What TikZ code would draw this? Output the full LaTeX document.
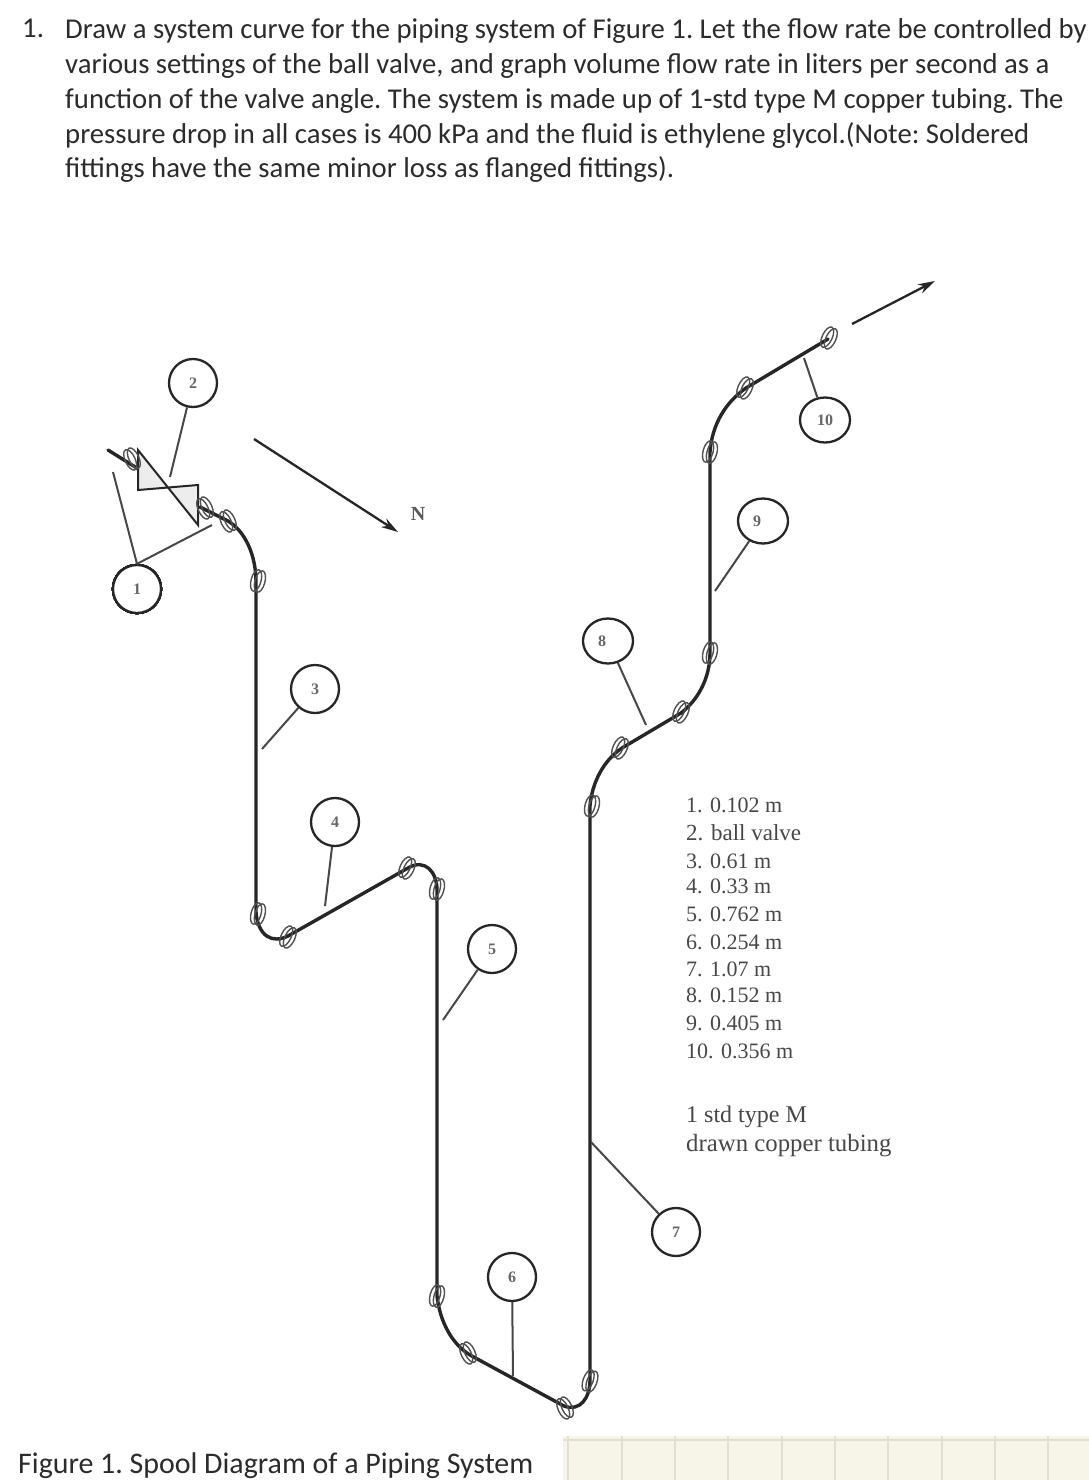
\documentclass[tikz,border=0pt]{standalone}
\usepackage{fontspec}
\setmainfont{Carlito}
\newfontfamily\figserif{Liberation Serif}
\usetikzlibrary{shapes.geometric,arrows.meta}
\definecolor{inkc}{HTML}{262626}
\definecolor{txtc}{HTML}{2B2B2B}
\definecolor{gridfill}{HTML}{F7F4E8}
\definecolor{gridline}{HTML}{E2DFD0}
\tikzset{
 x=1pt,y=-1pt,
 pipe/.style={draw=inkc,line width=3.4pt,line cap=round,line join=round},
 leader/.style={draw=inkc!85,line width=2pt},
 flange/.style={draw=inkc!80,line width=1.4pt},
 bubble/.style={circle,draw=inkc,line width=2.3pt,minimum size=48pt,inner sep=0pt,fill=white,font=\figserif\bfseries\fontsize{16}{16}\selectfont,text=black!60},
 obubble/.style={bubble,ellipse,minimum width=50pt,minimum height=45pt},
 body/.style={anchor=base west,inner sep=0pt,font=\frenchspacing\fontsize{28.7}{30}\selectfont,text=txtc},
 legend/.style={anchor=base west,inner sep=0pt,font=\figserif\fontsize{22}{24}\selectfont,text=black!72},
 flowarrow/.style={draw=inkc,line width=2.3pt,-{Stealth[length=17pt,width=10pt]}},
}
\newcommand{\flangeat}[3]{%
 \begin{scope}[shift={(#1,#2)},rotate=#3]
  \draw[flange] (-2,0) ellipse [x radius=5,y radius=11];
  \draw[flange] (2,0) ellipse [x radius=5,y radius=11];
 \end{scope}}
\begin{document}
\begin{tikzpicture}
\useasboundingbox (0,0) rectangle (1089,1480);
\fill[white] (0,0) rectangle (1089,1480);
% statement
\node[body] (tn) at (22,38) {1.};
\node[body] (t1) at (65,39) {Draw a system curve for the piping system of Figure 1. Let the flow rate be controlled by};
\node[body] (t2) at (65,74) {various settings of the ball valve, and graph volume flow rate in liters per second as a};
\node[body] (t3) at (65,108) {function of the valve angle. The system is made up of 1-std type M copper tubing. The};
\node[body] (t4) at (65,143) {pressure drop in all cases is 400 kPa and the fluid is ethylene glycol.(Note: Soldered};
\node[body] (t5) at (65,177) {fittings have the same minor loss as flanged fittings).};
\node[body,font=\frenchspacing\fontsize{29.9}{30}\selectfont] (cap) at (18,1473) {Figure 1. Spool Diagram of a Piping System};
% grid corner
\fill[gridfill] (563,1436) rectangle (1089,1480);
\draw[gridline,line width=1.6pt] (563,1440) -- (1089,1440);
\foreach \gx in {568,622,675,728,782,835,888,942,995,1048}
  \draw[gridline,line width=1.6pt] (\gx,1436) -- (\gx,1480);
% pipes
\draw[pipe] (108,450) -- (140,470);
\draw[pipe] (200,507) -- (228,521) .. controls (245,531) and (256,555) .. (256,582)
  -- (256,912) .. controls (258,936) and (272,944) .. (288,936)
  -- (408,868) .. controls (425,858) and (437,872) .. (437,890)
  -- (437,1296) .. controls (440,1322) and (452,1344) .. (470,1355)
  -- (564,1406) .. controls (580,1412) and (590,1398) .. (590,1380)
  -- (590,806) .. controls (592,782) and (604,760) .. (622,748)
  -- (681,713) .. controls (698,700) and (710,678) .. (710,653)
  -- (710,452) .. controls (712,424) and (726,402) .. (746,388)
  -- (828,339);
% valve
\fill[black!7] (138,450) -- (198,525) -- (198,485) -- (138,490) -- cycle;
\draw[draw=inkc,line width=2pt,line join=miter] (138,450) -- (198,525) -- (198,485) -- (138,490) -- cycle;
% flanges
\foreach \fx/\fy/\fr in {132/459/25,205/508/25,228/521/25,258/581/-15,258/914/-15,288/937/-25,407/868/-25,437/889/-15,437/1296/-15,468/1353/25,565/1408/25,590/1381/-20,592/806/-15,620/748/-25,681/712/-25,710/653/-15,710/452/-15,745/388/-25,829/338/-25}
  \flangeat{\fx}{\fy}{\fr}
% bubbles
\node[bubble] (n1) at (137,589) {1};
\node[bubble] (n2) at (193,383) {2};
\node[bubble] (n3) at (315,689) {3};
\node[bubble] (n4) at (335,822) {4};
\node[bubble] (n5) at (492,949) {5};
\node[bubble] (n6) at (512,1277) {6};
\node[bubble] (n7) at (676,1232) {7};
\node[obubble] (n8) at (608,641) {\hspace*{-12pt}8};
\node[obubble] (n9) at (763,521) {\hspace*{-12pt}9};
\node[obubble] (n10) at (825,420) {10};
% leader ends
\coordinate (e1a) at (113,472);
\coordinate (e1b) at (212,525);
\coordinate (e2) at (170,477);
\coordinate (e3) at (262,749);
\coordinate (e4) at (325,906);
\coordinate (e5) at (443,1020);
\coordinate (e6) at (513,1376);
\coordinate (e7) at (591,1142);
\coordinate (e8) at (646,725);
\coordinate (e9) at (715,591);
\coordinate (e10) at (804,358);
\draw[leader] (n1.north) -- (e1a);
\draw[leader] (n1.north) -- (e1b);
\draw[leader] (n2) -- (e2);
\draw[leader] (n3) -- (e3);
\draw[leader] (n4) -- (e4);
\draw[leader] (n5) -- (e5);
\draw[leader] (n6) -- (e6);
\draw[leader] (n7) -- (e7);
\draw[leader] (n8) -- (e8);
\draw[leader] (n9) -- (e9);
\draw[leader] (n10) -- (e10);
% arrows
\coordinate (na) at (254,439);
\coordinate (nb) at (398,532);
\draw[flowarrow] (na) -- (nb);
\node[anchor=base,inner sep=0pt,font=\figserif\bfseries\fontsize{20}{20}\selectfont,text=black!65] (nl) at (418,520) {N};
\coordinate (oa) at (852,324);
\coordinate (ob) at (935,281);
\draw[flowarrow] (oa) -- (ob);
% legend
\node[legend] (l1) at (686,812) {1. 0.102 m};
\node[legend,font=\figserif\fontsize{23}{24}\selectfont] (l2) at (686,840) {2. ball valve};
\node[legend] (l3) at (686,868) {3. 0.61 m};
\node[legend] (l4) at (686,893) {4. 0.33 m};
\node[legend] (l5) at (686,921) {5. 0.762 m};
\node[legend] (l6) at (686,949) {6. 0.254 m};
\node[legend] (l7) at (686,976) {7. 1.07 m};
\node[legend] (l8) at (686,1002) {8. 0.152 m};
\node[legend] (l9) at (686,1030) {9. 0.405 m};
\node[legend] (l10) at (686,1058) {10. 0.356 m};
\node[legend,font=\figserif\fontsize{24}{24}\selectfont] (l11) at (686,1122) {1 std type M};
\node[legend,font=\figserif\fontsize{24.8}{25}\selectfont] (l12) at (686,1151) {drawn copper tubing};
\end{tikzpicture}
\end{document}
